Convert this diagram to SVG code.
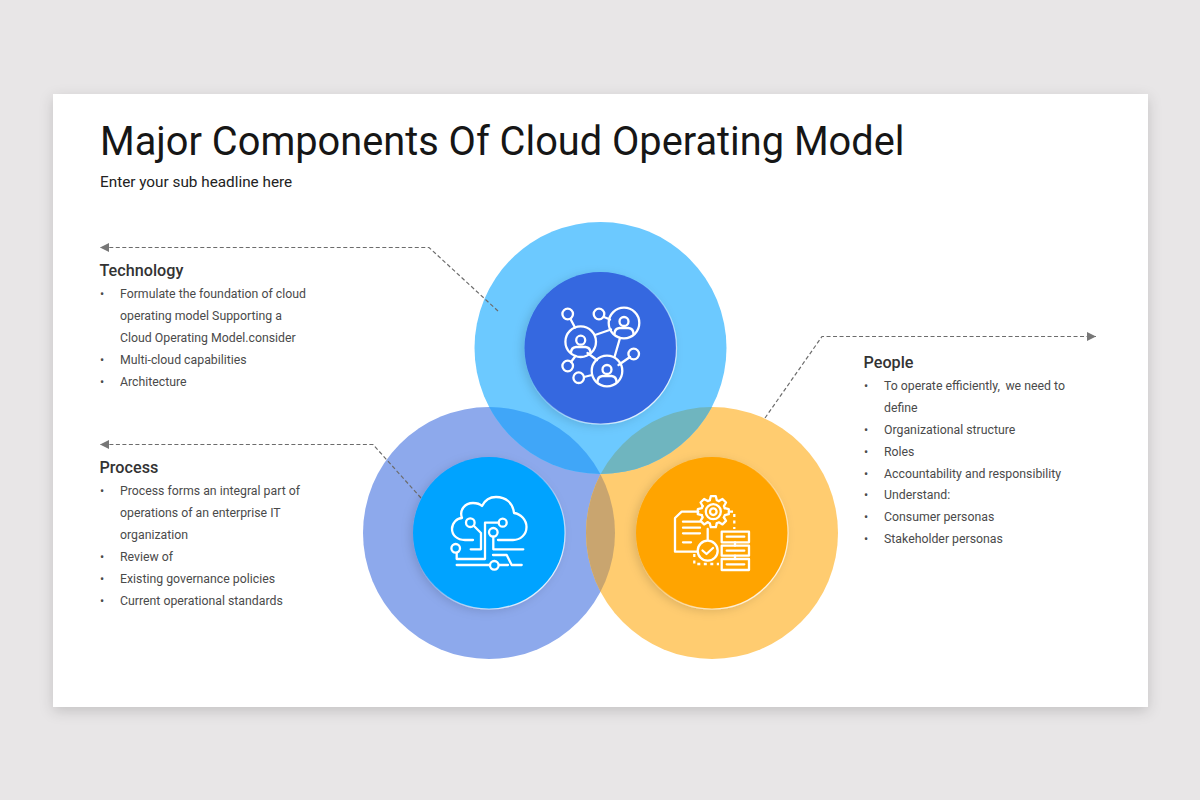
<svg xmlns="http://www.w3.org/2000/svg" width="1200" height="800" viewBox="0 0 1200 800">
<style>
text{font-family:Roboto,"Liberation Sans",sans-serif}
.title{font-size:39.75px;fill:#161616}
.sub{font-size:15.3px;fill:#222}
.h{font-size:16.2px;font-weight:500;fill:#333}
.b{font-size:12.3px;fill:#4a4a4a}
.d{fill:none;stroke:#6c6c6c;stroke-width:1.2;stroke-dasharray:4 2.5}
.i{fill:none;stroke:#fff;stroke-width:2.3;stroke-linecap:round;stroke-linejoin:round}
.dash{stroke-dasharray:3 3.5;stroke-linecap:butt}
.in{stroke:url(#rim);stroke-width:1.2}
</style>
<defs>
<marker id="arrow" markerUnits="userSpaceOnUse" markerWidth="10" markerHeight="10" refX="9" refY="4.5" orient="auto"><path d="M0 0L9 4.5L0 9Z" fill="#777"/></marker>
<linearGradient id="rim" x1="0.1" y1="0.1" x2="0.9" y2="0.9"><stop offset="0.35" stop-color="#fff" stop-opacity="0"/><stop offset="1" stop-color="#fff" stop-opacity=".9"/></linearGradient>
<filter id="sh" x="-5%" y="-5%" width="110%" height="112%"><feDropShadow dx="0" dy="4" stdDeviation="7" flood-color="#000" flood-opacity=".16"/></filter>
<filter id="cs" x="-20%" y="-20%" width="140%" height="140%"><feDropShadow dx="-3" dy="2" stdDeviation="5" flood-color="#000" flood-opacity=".13"/></filter>
<clipPath id="cl"><circle cx="489" cy="533" r="126"/></clipPath>
<clipPath id="cr"><circle cx="712" cy="533" r="126"/></clipPath>
<path id="tooth" d="M-3.500-11.500L-2.500-15.500H2.500L3.500-11.500L5.660-10.600"/>
</defs>
<rect width="1200" height="800" fill="#e8e6e7"/>
<rect x="53" y="94" width="1095" height="613" fill="#fff" filter="url(#sh)"/>
<text class="title" x="100" y="155">Major Components Of Cloud Operating Model</text>
<text class="sub" x="100" y="187">Enter your sub headline here</text>

<g id="venn">
<circle cx="489" cy="533" r="126" fill="#8da9ec"/>
<circle cx="712" cy="533" r="126" fill="#ffcc70"/>
<circle cx="600.5" cy="348" r="126" fill="#6cc9ff"/>
<g clip-path="url(#cl)"><circle cx="712" cy="533" r="126" fill="#c9a56f"/><circle cx="600.5" cy="348" r="126" fill="#40a6f8"/></g>
<g clip-path="url(#cr)"><circle cx="600.5" cy="348" r="126" fill="#6fb5bf"/></g>
</g>

<g id="connectors">
<path class="d" d="M498 311L429 247.500H100" marker-end="url(#arrow)"/>
<path class="d" d="M421 498L373 444.500H100" marker-end="url(#arrow)"/>
<path class="d" d="M765 418L822 336.500H1096" marker-end="url(#arrow)"/>
</g>

<g id="node-technology">
<circle cx="600.5" cy="348" r="76" fill="#3567e0" class="in" filter="url(#cs)"/>
<g class="i" transform="translate(520 270)">
<circle cx="47.700" cy="44" r="5.300"/><circle cx="79" cy="44" r="5.300"/>
<circle cx="104" cy="53" r="15.300"/><circle cx="104" cy="51.500" r="4.500"/><path d="M94.500 64q0-5.500 5-6h9q5 .5 5 6"/>
<circle cx="60.700" cy="71.700" r="15.300"/><circle cx="60.700" cy="70.200" r="4.500"/><path d="M51 83q0-5.500 5-6h9.500q5 .5 5 6"/>
<circle cx="87" cy="101" r="15.300"/><circle cx="87" cy="99.500" r="4.500"/><path d="M77.500 112q0-5.500 5-6h9q5 .5 5 6"/>
<circle cx="47.700" cy="96" r="5.300"/><circle cx="58.700" cy="107.700" r="5.300"/><circle cx="113.700" cy="84" r="5.300"/>
<path d="M50.500 49L55 57.500M84 47L90 49.500M75 65L91 59.500M100 68L94.500 87M67.500 83L77 90M51 92L55.500 86M64 107L72 105M110 87L98.500 95"/>
</g>
</g>

<g id="node-process">
<circle cx="489" cy="533" r="76" fill="#00a3ff" class="in" filter="url(#cs)"/>
<g class="i" transform="translate(410 455)">
<path d="M63 85H55C47 85 42 80 42 74C42 68 47 63 52 63C49 55 55 48 63 48C67 48 70 49 72 51C75 45 80 42 86 42C96 42 103 48 104 58C111 59 116.500 65 116.500 72C116.500 80 110 85 103 85H88"/>
<circle cx="60.300" cy="67.700" r="4.300"/><path d="M64 71L71 78V94.300H60.700"/>
<circle cx="92.700" cy="67.700" r="4"/><path d="M88.700 67.700H75V104H46.700V98"/>
<circle cx="83.300" cy="77.300" r="4.300"/><path d="M83.300 81.600V94.300H113.300"/>
<circle cx="45.700" cy="93.300" r="4.300"/>
<path d="M46.700 110H80M89 110H98M83 100H96.700L101.700 110H111.700"/>
<circle cx="84.300" cy="110.300" r="4.300"/>
</g>
</g>

<g id="node-people">
<circle cx="712" cy="533" r="76" fill="#ffa405" class="in" filter="url(#cs)"/>
<g class="i" transform="translate(635 455)">
<path d="M63.300 56.700H46.700L40 63V96.700H62"/>
<path d="M48 66.700H65M48 72.700H65M48 78.300H65M48 87.300H56"/>
<g transform="translate(78.300 56.700)">
<use href="#tooth"/><use href="#tooth" transform="rotate(45)"/><use href="#tooth" transform="rotate(90)"/><use href="#tooth" transform="rotate(135)"/><use href="#tooth" transform="rotate(180)"/><use href="#tooth" transform="rotate(225)"/><use href="#tooth" transform="rotate(270)"/><use href="#tooth" transform="rotate(315)"/>
<circle r="7.500"/><circle r="3.300"/>
</g>
<path d="M72.700 74V85"/>
<circle cx="72.700" cy="95.700" r="10"/><path d="M67.500 95.500L71.500 99L78 93"/>
<rect x="86.700" y="76.700" width="27.300" height="10.600"/><rect x="86.700" y="90.700" width="27.300" height="10"/><rect x="86.700" y="104" width="27.300" height="11"/>
<path d="M91.700 81.700H109.300M91.700 95.700H109.300M91.700 109.300H109.300M100 87.300V90.700M100 100.700V104"/>
<path class="i dash" d="M95 56.700H99.300V74M59.300 99V109H84"/>
</g>
</g>

<g id="text-technology">
<text class="h" x="99.500" y="275.500">Technology</text>
<text class="b" x="100" y="298">•</text><text class="b" x="120" y="298">Formulate the foundation of cloud</text>
<text class="b" x="120" y="320">operating model Supporting a</text>
<text class="b" x="120" y="342">Cloud Operating Model.consider</text>
<text class="b" x="100" y="364">•</text><text class="b" x="120" y="364">Multi-cloud capabilities</text>
<text class="b" x="100" y="386">•</text><text class="b" x="120" y="386">Architecture</text>
</g>
<g id="text-process">
<text class="h" x="99.500" y="473">Process</text>
<text class="b" x="100" y="495">•</text><text class="b" x="120" y="495">Process forms an integral part of</text>
<text class="b" x="120" y="517">operations of an enterprise IT</text>
<text class="b" x="120" y="539">organization</text>
<text class="b" x="100" y="561">•</text><text class="b" x="120" y="561">Review of</text>
<text class="b" x="100" y="583">•</text><text class="b" x="120" y="583">Existing governance policies</text>
<text class="b" x="100" y="605">•</text><text class="b" x="120" y="605">Current operational standards</text>
</g>
<g id="text-people">
<text class="h" x="863.500" y="367.500">People</text>
<text class="b" x="864" y="390">•</text><text class="b" x="884" y="390">To operate efficiently, <tspan dx="2.500">we need to</tspan></text>
<text class="b" x="884" y="412">define</text>
<text class="b" x="864" y="434">•</text><text class="b" x="884" y="434">Organizational structure</text>
<text class="b" x="864" y="456">•</text><text class="b" x="884" y="456">Roles</text>
<text class="b" x="864" y="478">•</text><text class="b" x="884" y="478">Accountability and responsibility</text>
<text class="b" x="864" y="499">•</text><text class="b" x="884" y="499">Understand:</text>
<text class="b" x="864" y="521">•</text><text class="b" x="884" y="521">Consumer personas</text>
<text class="b" x="864" y="543">•</text><text class="b" x="884" y="543">Stakeholder personas</text>
</g>
</svg>
